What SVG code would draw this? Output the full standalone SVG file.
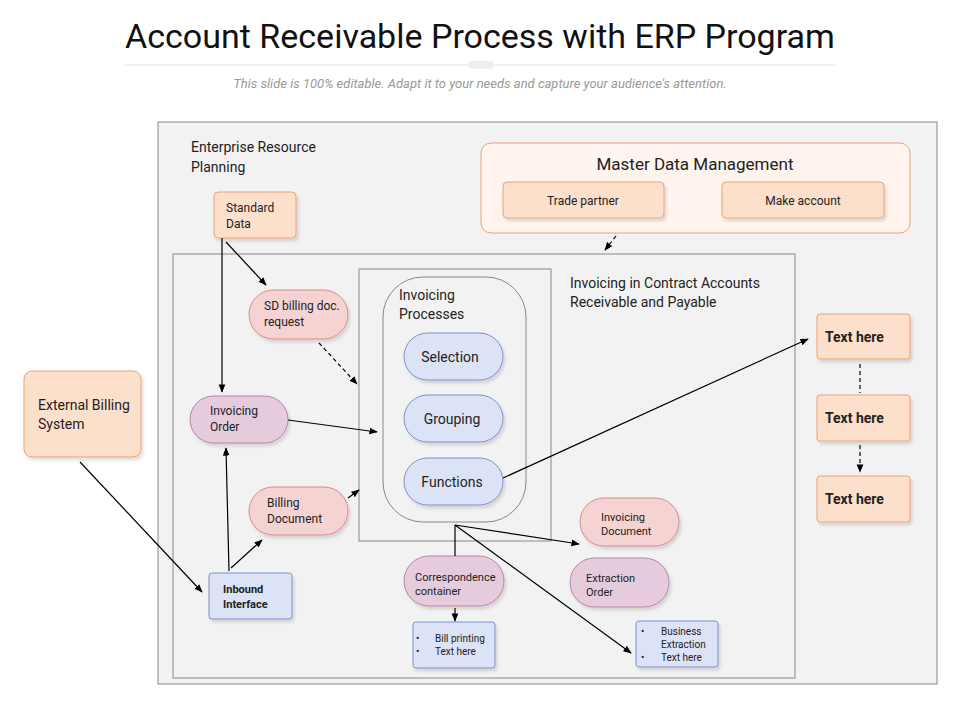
<svg xmlns="http://www.w3.org/2000/svg" width="960" height="720" viewBox="0 0 960 720">
<defs>
<marker id="ah" viewBox="0 0 10 10" refX="9" refY="5" markerWidth="7" markerHeight="7" orient="auto"><path d="M0,1 L10,5 L0,9 z" fill="#000"/></marker>
<filter id="sh" x="-10%" y="-10%" width="130%" height="140%"><feDropShadow dx="2" dy="3" stdDeviation="1.5" flood-color="#000" flood-opacity="0.12"/></filter>
</defs>
<style>
text{font-family:"Roboto","Liberation Sans",sans-serif;fill:#222}
.or{fill:#fde0cc;stroke:#f0a070;stroke-width:1}
.rd{fill:#f6d3d3;stroke:#d98a8a;stroke-width:1}
.pu{fill:#e6cbdd;stroke:#b883a5;stroke-width:1}
.bl{fill:#dde3f6;stroke:#7f8fcf;stroke-width:1}
.c{stroke:#000;stroke-width:1.2;fill:none}
.d{stroke-dasharray:4 3}
.s{font-size:12px}
.m{font-size:14px}
</style>
<rect width="960" height="720" fill="#fff"/>
<text x="480" y="48" text-anchor="middle" font-size="34" style="fill:#111">Account Receivable Process with ERP Program</text>
<line x1="125" y1="65" x2="835" y2="65" stroke="#e6e6e6"/>
<rect x="468" y="61" width="26" height="8" rx="4" fill="#eee"/>
<text x="480" y="88" text-anchor="middle" font-size="13" font-style="italic" style="fill:#999">This slide is 100% editable. Adapt it to your needs and capture your audience's attention.</text>

<rect x="158" y="122" width="779" height="562" fill="#f2f2f2" stroke="#888"/>
<text x="191" y="152" class="m">Enterprise Resource</text>
<text x="191" y="172" class="m">Planning</text>
<rect x="173" y="254" width="622" height="424" fill="#f2f2f2" stroke="#888"/>
<text x="570" y="288" class="m">Invoicing in Contract Accounts</text>
<text x="570" y="307" class="m">Receivable and Payable</text>
<rect x="359" y="269" width="192" height="272" fill="#f2f2f2" stroke="#888"/>

<g id="master"><rect x="481" y="143" width="429" height="90" rx="10" fill="#fff5ee" stroke="#f0a070"/>
<text x="695" y="170" text-anchor="middle" font-size="17">Master Data Management</text></g>
<g id="trade"><rect x="503" y="182" width="161" height="36" rx="4" class="or" filter="url(#sh)"/><text x="583" y="205" text-anchor="middle" class="s">Trade partner</text></g>
<g id="make"><rect x="722" y="182" width="162" height="36" rx="4" class="or" filter="url(#sh)"/><text x="803" y="205" text-anchor="middle" class="s">Make account</text></g>

<g id="proc"><rect x="383" y="277" width="143" height="245" rx="40" fill="#f2f2f2" stroke="#888"/>
<text x="399" y="300" class="m">Invoicing</text><text x="399" y="319" class="m">Processes</text></g>
<g id="sel"><rect x="404" y="333" width="99" height="47" rx="23.5" class="bl" filter="url(#sh)"/><text x="450" y="362" text-anchor="middle" class="m">Selection</text></g>
<g id="grp"><rect x="404" y="395" width="99" height="47" rx="23.5" class="bl" filter="url(#sh)"/><text x="452" y="424" text-anchor="middle" class="m">Grouping</text></g>
<g id="fun"><rect x="404" y="458" width="99" height="47" rx="23.5" class="bl" filter="url(#sh)"/><text x="452" y="487" text-anchor="middle" class="m">Functions</text></g>

<g id="std"><rect x="214" y="192" width="82" height="46" rx="4" class="or" filter="url(#sh)"/><text x="226" y="212" class="s">Standard</text><text x="226" y="228" class="s">Data</text></g>
<g id="sd"><rect x="249" y="290" width="99" height="49" rx="24.5" class="rd" filter="url(#sh)"/><text x="264" y="310" class="s">SD billing doc.</text><text x="264" y="326" class="s">request</text></g>
<g id="io"><rect x="190" y="396" width="98" height="47" rx="23.5" class="pu" filter="url(#sh)"/><text x="210" y="415" class="s">Invoicing</text><text x="210" y="431" class="s">Order</text></g>
<g id="bd"><rect x="249" y="487" width="99" height="48" rx="24" class="rd" filter="url(#sh)"/><text x="267" y="507" class="s">Billing</text><text x="267" y="523" class="s">Document</text></g>
<g id="inb"><rect x="209" y="573" width="83" height="46" rx="3" class="bl" filter="url(#sh)"/><text x="223" y="593" font-size="11" font-weight="bold">Inbound</text><text x="223" y="608" font-size="11" font-weight="bold">Interface</text></g>
<g id="ext"><rect x="24" y="371" width="117" height="86" rx="8" class="or" filter="url(#sh)"/><text x="38" y="410" class="m">External Billing</text><text x="38" y="429" class="m">System</text></g>
<g id="t1"><rect x="817" y="314" width="93" height="45" rx="3" class="or" filter="url(#sh)"/><text x="825" y="342" class="m" font-weight="bold">Text here</text></g>
<g id="t2"><rect x="817" y="395" width="93" height="46" rx="3" class="or" filter="url(#sh)"/><text x="825" y="423" class="m" font-weight="bold">Text here</text></g>
<g id="t3"><rect x="817" y="476" width="93" height="46" rx="3" class="or" filter="url(#sh)"/><text x="825" y="504" class="m" font-weight="bold">Text here</text></g>
<g id="idoc"><rect x="580" y="498" width="99" height="48" rx="24" class="rd" filter="url(#sh)"/><text x="601" y="521" font-size="11">Invoicing</text><text x="601" y="535" font-size="11">Document</text></g>
<g id="eo"><rect x="570" y="558" width="99" height="49" rx="24.5" class="pu" filter="url(#sh)"/><text x="586" y="582" font-size="11">Extraction</text><text x="586" y="596" font-size="11">Order</text></g>
<g id="cc"><rect x="404" y="556" width="100" height="50" rx="25" class="pu" filter="url(#sh)"/><text x="415" y="581" font-size="11">Correspondence</text><text x="415" y="595" font-size="11">container</text></g>
<g id="bp"><rect x="413" y="622" width="82" height="46" rx="3" class="bl" filter="url(#sh)"/><text x="416" y="642" font-size="10">•</text><text x="435" y="642" font-size="10">Bill printing</text><text x="416" y="655" font-size="10">•</text><text x="435" y="655" font-size="10">Text here</text></g>
<g id="be"><rect x="636" y="621" width="82" height="46" rx="3" class="bl" filter="url(#sh)"/><text x="641" y="635" font-size="10">•</text><text x="661" y="635" font-size="10">Business</text><text x="661" y="648" font-size="10">Extraction</text><text x="641" y="661" font-size="10">•</text><text x="661" y="661" font-size="10">Text here</text></g>

<g id="connectors">
<line class="c" x1="222" y1="238" x2="222" y2="392" marker-end="url(#ah)"/>
<line class="c" x1="226" y1="242" x2="266" y2="285" marker-end="url(#ah)"/>
<line class="c d" x1="319" y1="343" x2="357" y2="384" marker-end="url(#ah)"/>
<line class="c" x1="288" y1="420" x2="377" y2="432" marker-end="url(#ah)"/>
<line class="c" x1="348" y1="498" x2="359" y2="490" marker-end="url(#ah)"/>
<line class="c" x1="229" y1="571" x2="226" y2="448" marker-end="url(#ah)"/>
<line class="c" x1="231" y1="568" x2="262" y2="540" marker-end="url(#ah)"/>
<line class="c" x1="80" y1="462" x2="202" y2="592" marker-end="url(#ah)"/>
<line class="c" x1="503" y1="478" x2="808" y2="339" marker-end="url(#ah)"/>
<line class="c" x1="455" y1="525" x2="455" y2="556"/>
<line class="c" x1="455" y1="525" x2="579" y2="544" marker-end="url(#ah)"/>
<line class="c" x1="455" y1="525" x2="631" y2="653" marker-end="url(#ah)"/>
<line class="c" x1="455" y1="608" x2="455" y2="621" marker-end="url(#ah)"/>
<line class="c d" x1="616" y1="236" x2="605" y2="250" marker-end="url(#ah)"/>
<line class="c d" x1="860" y1="364" x2="860" y2="393"/>
<line class="c d" x1="860" y1="445" x2="860" y2="472" marker-end="url(#ah)"/>
</g>
</svg>
